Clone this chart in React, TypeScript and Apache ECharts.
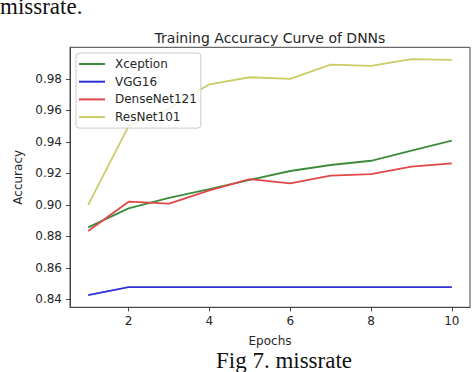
import React, { useEffect, useRef } from "react";
import * as echarts from "echarts";

const epochs = [1, 2, 3, 4, 5, 6, 7, 8, 9, 10];
const xceptionAcc = [0.8857, 0.8978, 0.9045, 0.91, 0.9158, 0.9215, 0.9253, 0.928, 0.9344, 0.9407];
const vgg16Acc = [0.8428, 0.8478, 0.8478, 0.8478, 0.8478, 0.8478, 0.8478, 0.8478, 0.8478, 0.8478];
const denseNet121Acc = [0.8834, 0.902, 0.9008, 0.9092, 0.9164, 0.9137, 0.9185, 0.9195, 0.9243, 0.9264];
const resNet101Acc = [0.9, 0.95, 0.961, 0.9765, 0.981, 0.98, 0.989, 0.9882, 0.9925, 0.992];

const seriesNames = ["Xception", "VGG16", "DenseNet121", "ResNet101"];
const seriesColors = ["#3d8c3d", "#2f2fd6", "#e04848", "#cccc66"];
const xTicks = [2, 4, 6, 8, 10];
const yTicks = [0.84, 0.86, 0.88, 0.9, 0.92, 0.94, 0.96, 0.98];

const chartTitle = "Training Accuracy Curve of DNNs";
const xName = "Epochs";
const yName = "Accuracy";
const topText = "missrate.";
const caption = "Fig 7. missrate";

export default function App() {
  const ref = useRef<HTMLDivElement>(null);
  useEffect(() => {
    if (!ref.current) return;
    const chart = echarts.init(ref.current, undefined, { renderer: "svg" });
    const all = [xceptionAcc, vgg16Acc, denseNet121Acc, resNet101Acc];
    const sans = "DejaVu Sans";
    const txt = "#262626";
    const axisCol = "#444444";
    chart.setOption({
      animation: false,
      backgroundColor: "#ffffff",
      grid: {
        left: 70,
        top: 47.3,
        right: 4,
        bottom: 64.7,
        show: true,
        borderColor: axisCol,
        borderWidth: 1,
        backgroundColor: "#ffffff",
      },
      xAxis: {
        type: "value",
        min: 0.55,
        max: 10.45,
        name: xName,
        nameLocation: "middle",
        nameGap: 28,
        nameTextStyle: { fontFamily: sans, fontSize: 12, color: txt },
        axisLine: { show: true, lineStyle: { color: axisCol, width: 1 } },
        axisTick: { show: true, length: 4, customValues: xTicks, lineStyle: { color: axisCol } },
        axisLabel: {
          customValues: xTicks,
          margin: 8,
          fontFamily: sans,
          fontSize: 12,
          color: txt,
          formatter: (v: number) => String(v),
        },
        splitLine: { show: false },
      },
      yAxis: {
        type: "value",
        min: 0.835,
        max: 1.0,
        name: yName,
        nameLocation: "middle",
        nameGap: 38,
        nameTextStyle: { fontFamily: sans, fontSize: 12, color: txt },
        axisLine: { show: true, lineStyle: { color: axisCol, width: 1 } },
        axisTick: { show: true, length: 4, customValues: yTicks, lineStyle: { color: axisCol } },
        axisLabel: {
          customValues: yTicks,
          margin: 8,
          fontFamily: sans,
          fontSize: 12,
          color: txt,
          formatter: (v: number) => v.toFixed(2),
        },
        splitLine: { show: false },
      },
      legend: {
        orient: "vertical",
        left: 76,
        top: 53,
        padding: [5, 4, 5, 3],
        itemGap: 5.7,
        itemWidth: 26,
        itemHeight: 2,
        icon: "rect",
        backgroundColor: "rgba(255,255,255,0.8)",
        borderColor: "#cccccc",
        borderWidth: 1,
        borderRadius: 3,
        textStyle: { fontFamily: sans, fontSize: 12, color: txt, padding: [0, 0, 0, 5] },
        data: seriesNames,
      },
      graphic: [
        {
          type: "text",
          x: 270,
          y: 37.5,
          style: {
            text: chartTitle,
            fontFamily: sans,
            fontSize: 14,
            fill: txt,
            align: "center",
            verticalAlign: "middle",
          },
        },
        {
          type: "text",
          x: 0,
          y: 6.2,
          style: {
            text: topText,
            fontFamily: "Liberation Serif",
            fontSize: 23,
            fill: "#111111",
            align: "left",
            verticalAlign: "middle",
          },
        },
        {
          type: "text",
          x: 284,
          y: 360,
          style: {
            text: caption,
            fontFamily: "Liberation Serif",
            fontSize: 23,
            fill: "#111111",
            align: "center",
            verticalAlign: "middle",
          },
        },
      ],
      series: seriesNames.map((name, i) => ({
        name,
        type: "line",
        showSymbol: false,
        symbol: "none",
        color: seriesColors[i],
        lineStyle: { width: 1.8, color: seriesColors[i] },
        data: epochs.map((e, j) => [e, all[i][j]]),
        z: i === 3 ? 1 : 2,
      })),
    });
    return () => chart.dispose();
  }, []);
  return (
    <div
      ref={ref}
      style={{ position: "fixed", left: 0, top: 0, width: 474, height: 372 }}
    />
  );
}
